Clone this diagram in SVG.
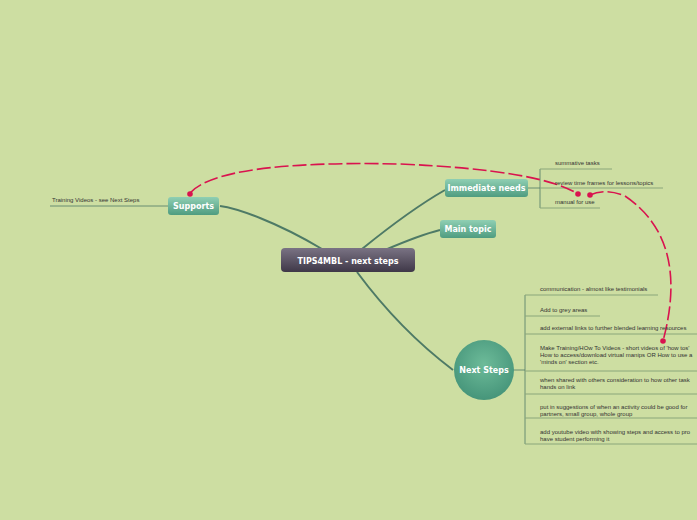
<svg xmlns="http://www.w3.org/2000/svg" width="697" height="520" viewBox="0 0 697 520">
<defs>
<linearGradient id="g" x1="0" y1="0" x2="0" y2="1"><stop offset="0" stop-color="#8fcfb3"/><stop offset="1" stop-color="#4f9c80"/></linearGradient>
<linearGradient id="c" x1="0" y1="0" x2="0" y2="1"><stop offset="0" stop-color="#7a7384"/><stop offset="1" stop-color="#3f3848"/></linearGradient>
<radialGradient id="r" cx="0.5" cy="0.4" r="0.6"><stop offset="0" stop-color="#6dbb99"/><stop offset="1" stop-color="#46957a"/></radialGradient>
</defs>
<style>
.t{font-family:"Liberation Sans",Arial,sans-serif;font-size:6px;fill:#333}
.n{font-family:"DejaVu Sans",sans-serif;font-size:8px;font-weight:bold;fill:#fff}
.l{stroke:#4e7a66;stroke-width:0.8;fill:none}
.u{stroke:#8aa67a;stroke-width:1;fill:none}
.b{stroke:#4e7a66;stroke-width:2;fill:none}
.red{stroke:#d9134f;stroke-width:1.6;fill:none;stroke-dasharray:14 4}
</style>
<rect width="697" height="520" fill="#cddea2"/>
<g id="connectors">
<path class="b" d="M322 249 Q290 230 260 218 Q235 208 220 206"/>
<path class="b" d="M362 249 Q410 210 445 190"/>
<path class="b" d="M385 250 Q420 235 440 230"/>
<path class="b" d="M357 272 Q400 330 453 370"/>
<path class="l" d="M170 206 H50"/>
<path class="l" d="M528 188 H540 M540 169 V208"/>
<path class="u" d="M540 169 H612 M540 188 H663 M540 208 H600"/>
<path class="l" d="M513 370 H525 M525 295 V444"/>
<path class="u" d="M525 295 H658 M525 316 H600 M525 334 H697 M525 371 H697 M525 394 H697 M525 418 H697 M525 444 H697"/>
<path class="red" d="M190 193 Q220 160 400 164 Q540 170 578 194"/>
<path class="red" d="M590 195 Q605 188 625 196 Q690 240 663 341"/>
<circle cx="190" cy="194" r="2.8" fill="#d9134f"/>
<circle cx="578" cy="194" r="2.8" fill="#d9134f"/>
<circle cx="590" cy="195" r="2.8" fill="#d9134f"/>
<circle cx="663" cy="341" r="2.8" fill="#d9134f"/>
</g>
<g id="center"><rect x="281" y="248" width="134" height="24" rx="4" fill="url(#c)"/><text class="n" x="348" y="264" text-anchor="middle" font-size="9">TIPS4MBL - next steps</text></g>
<g id="supports"><rect x="168" y="197" width="51" height="18" rx="3" fill="url(#g)"/><text class="n" x="193.5" y="209" text-anchor="middle">Supports</text><text class="t" x="52" y="202">Training Videos - see Next Steps</text></g>
<g id="immediate"><rect x="445" y="179" width="83" height="18" rx="3" fill="url(#g)"/><text class="n" x="486.5" y="191" text-anchor="middle">Immediate needs</text>
<text class="t" x="555" y="165">summative tasks</text><text class="t" x="555" y="185">review time frames for lessons/topics</text><text class="t" x="555" y="204">manual for use</text></g>
<g id="main"><rect x="440" y="220" width="56" height="18" rx="3" fill="url(#g)"/><text class="n" x="468" y="232" text-anchor="middle">Main topic</text></g>
<g id="next"><circle cx="484" cy="370" r="30" fill="url(#r)"/><text class="n" x="484" y="373" text-anchor="middle">Next Steps</text>
<text class="t" x="540" y="291">communication - almost like testimonials</text>
<text class="t" x="540" y="312">Add to grey areas</text>
<text class="t" x="540" y="330">add external links to further blended learning resources</text>
<text class="t" x="540" y="350">Make Training/HOw To Videos - short videos of 'how tos'</text>
<text class="t" x="540" y="357">How to access/download virtual manips OR How to use a</text>
<text class="t" x="540" y="364">'minds on' section etc.</text>
<text class="t" x="540" y="382">when shared with others consideration to how other task</text>
<text class="t" x="540" y="389">hands on link</text>
<text class="t" x="540" y="409">put in suggestions of when an activity could be good for</text>
<text class="t" x="540" y="416">partners, small group, whole group</text>
<text class="t" x="540" y="434">add youtube video with showing steps and  access to pro</text>
<text class="t" x="540" y="441">have student performing it</text></g>
</svg>
